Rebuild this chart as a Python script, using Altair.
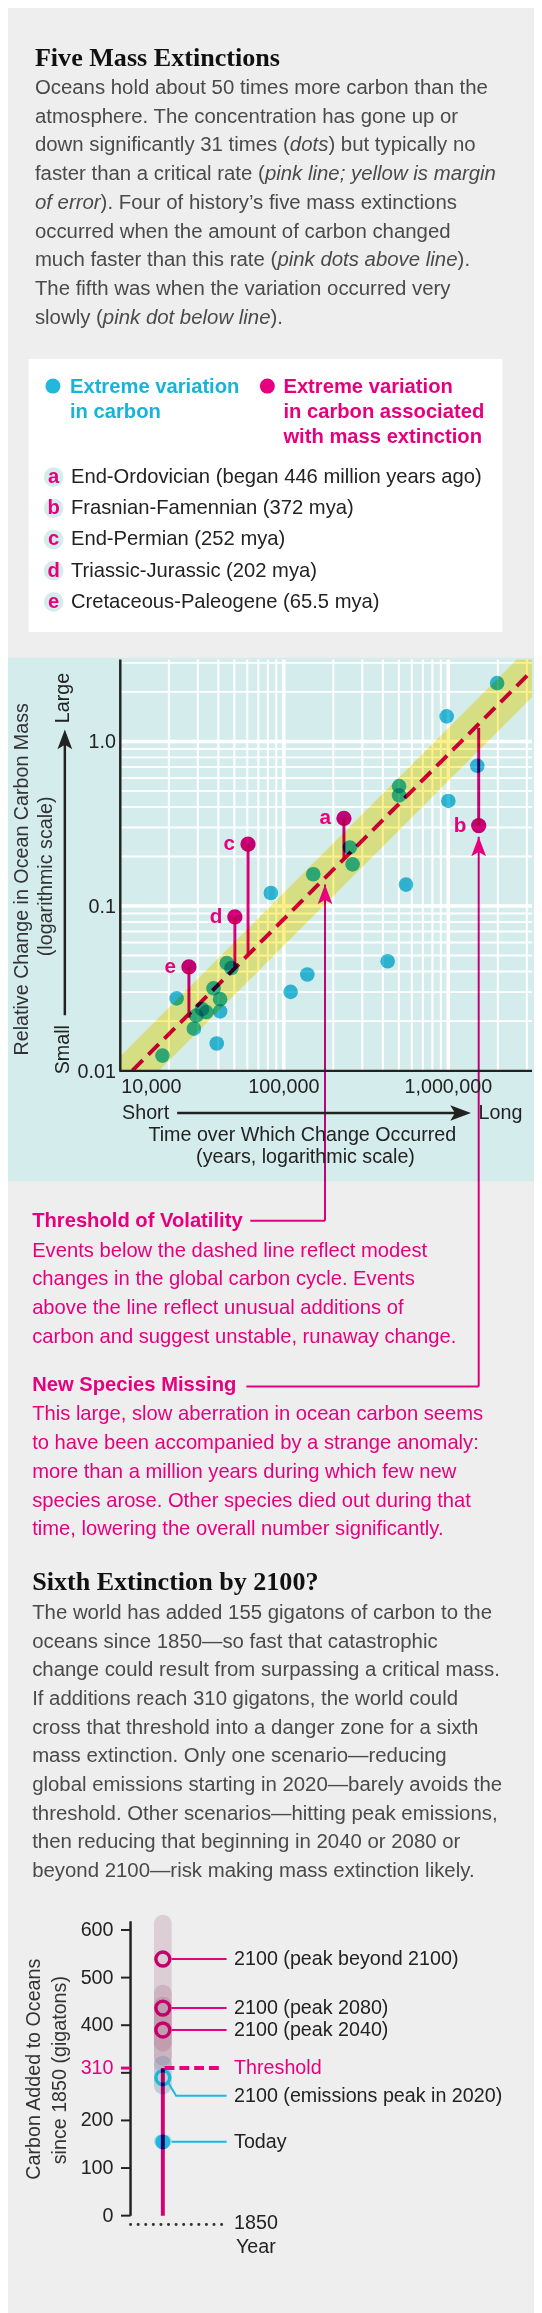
import altair as alt
import pandas as pd

# ---------------------------------------------------------------- data
# Scatter: extreme variations in ocean carbon (time in years, relative change)
cyan_time = [1.98e6, 9.77e5, 1.50e6, 5.02e5, 5.02e5, 1.0e6, 2.52e5, 2.62e5, 1.51e5,
             5.53e5, 8.34e4, 4.28e5, 1.39e5, 1.10e5, 2.23e4, 4.5e4, 4.8e4, 3.74e4,
             4.1e4, 4.1e4, 3.18e4, 3.38e4, 2.94e4, 2.84e4, 3.91e4, 1.83e4]
cyan_change = [2.26, 1.42, 0.711, 0.535, 0.470, 0.435, 0.227, 0.179, 0.156,
               0.135, 0.120, 0.0462, 0.0384, 0.0301, 0.0275, 0.045, 0.042, 0.0316,
               0.0272, 0.0229, 0.0237, 0.0227, 0.0216, 0.0180, 0.01463, 0.01235]

ext_letter = ["a", "b", "c", "d", "e"]
ext_name = ["End-Ordovician (began 446 million years ago)",
            "Frasnian-Famennian (372 mya)",
            "End-Permian (252 mya)",
            "Triassic-Jurassic (202 mya)",
            "Cretaceous-Paleogene (65.5 mya)"]
ext_time = [2.32e5, 1.53e6, 6.06e4, 5.04e4, 2.65e4]
ext_change = [0.341, 0.308, 0.238, 0.0859, 0.0427]
ext_on_line = [0.195, 1.21, 0.050, 0.042, 0.021]

threshold_time = [1.2e4, 3.228e6]
threshold_change = [0.01, 2.69]

band_time = [1.0e4, 1.74e4, 2.6e6, 3.228e6]
band_low = [0.01, 0.01, 1.494, 1.855]
band_high = [0.01208, 0.021, 3.14, 3.14]

callout_time = [1.78e5, 1.53e6]
callout_tip = [0.135, 0.264]

grid_time = [2e4, 3e4, 4e4, 5e4, 6e4, 7e4, 8e4, 9e4, 1e5, 2e5, 3e5, 4e5, 5e5,
             6e5, 7e5, 8e5, 9e5, 1e6, 2e6, 3e6]
grid_change = [0.02, 0.03, 0.04, 0.05, 0.06, 0.07, 0.08, 0.09, 0.1, 0.2, 0.3, 0.4,
               0.5, 0.6, 0.7, 0.8, 0.9, 1.0, 2.0, 3.0]
major_time = [1e5, 1e6]
major_change = [0.1, 1.0]
x_ticks = [1e4, 1e5, 1e6]
x_tick_labels = ["10,000", "100,000", "1,000,000"]
y_ticks = [0.01, 0.1, 1.0]
y_tick_labels = ["0.01", "0.1", "1.0"]
X_DOM = [1e4, 3.228e6]
Y_DOM = [0.01, 3.14]

# Sixth extinction scenarios (gigatons of carbon added since 1850)
scen_label = ["2100 (peak beyond 2100)", "2100 (peak 2080)", "2100 (peak 2040)",
              "2100 (emissions peak in 2020)", "Today"]
scen_value = [539, 436, 390, 290, 155]
scen_low = [300, 345, 315, 255, 143]
scen_high = [632, 485, 460, 336, 170]
scen_label_value = [539, 436, 390, 252, 155]
threshold_gt = 310
gt_ticks = [0, 100, 200, 300, 400, 500, 600]
gt_tick_labels = ["0", "100", "200", "", "400", "500", "600"]
GT_DOM = [0, 618.6]

# ---------------------------------------------------------------- texts
title1 = "Five Mass Extinctions"
intro_lines = [
    [("Oceans hold about 50 times more carbon than the", 0)],
    [("atmosphere. The concentration has gone up or", 0)],
    [("down significantly 31 times (", 0), ("dots", 1), (") but typically no", 0)],
    [("faster than a critical rate (", 0), ("pink line; yellow is margin", 1)],
    [("of error", 1), ("). Four of history\u2019s five mass extinctions", 0)],
    [("occurred when the amount of carbon changed", 0)],
    [("much faster than this rate (", 0), ("pink dots above line", 1), (").", 0)],
    [("The fifth was when the variation occurred very", 0)],
    [("slowly (", 0), ("pink dot below line", 1), (").", 0)],
]
legend_cyan = ["Extreme variation", "in carbon"]
legend_pink = ["Extreme variation", "in carbon associated", "with mass extinction"]

thr_title = "Threshold of Volatility"
thr_lines = ["Events below the dashed line reflect modest",
             "changes in the global carbon cycle. Events",
             "above the line reflect unusual additions of",
             "carbon and suggest unstable, runaway change."]
sp_title = "New Species Missing"
sp_lines = ["This large, slow aberration in ocean carbon seems",
            "to have been accompanied by a strange anomaly:",
            "more than a million years during which few new",
            "species arose. Other species died out during that",
            "time, lowering the overall number significantly."]
title2 = "Sixth Extinction by 2100?"
sixth_lines = ["The world has added 155 gigatons of carbon to the",
               "oceans since 1850\u2014so fast that catastrophic",
               "change could result from surpassing a critical mass.",
               "If additions reach 310 gigatons, the world could",
               "cross that threshold into a danger zone for a sixth",
               "mass extinction. Only one scenario\u2014reducing",
               "global emissions starting in 2020\u2014barely avoids the",
               "threshold. Other scenarios\u2014hitting peak emissions,",
               "then reducing that beginning in 2040 or 2080 or",
               "beyond 2100\u2014risk making mass extinction likely."]

# ---------------------------------------------------------------- style / layout
W_PAGE, H_PAGE = 534, 2305


def P(v):
    return v - 8  # reference pixel -> chart pixel (page margin)


SANS = "Liberation Sans"
SERIF = "Liberation Serif"
GRAY = "#4a4a4a"
INK = "#222222"
PINK = "#e6007e"
CYAN = "#22b8dc"
CYAN_TXT = "#16b4d8"
TEAL = "#d5ecec"
YELLOW = "#fff08c"
DASH = "#e8005c"
FS = 20.5
FS_BODY = 20.7

_W = {' ': 278, '!': 278, '(': 333, ')': 333, ',': 278, '-': 333, '.': 278, ':': 278,
      ';': 278, '?': 556, '\u2019': 222, '\u2014': 1000}
for ch in "0123456789":
    _W[ch] = 556
_W.update(dict(A=667, B=667, C=722, D=722, E=667, F=611, G=778, H=722, I=278, J=500,
               K=667, L=556, M=833, N=722, O=778, P=667, Q=778, R=722, S=667, T=611,
               U=722, V=667, W=944, X=667, Y=667, Z=611))
_W.update(dict(a=556, b=556, c=500, d=556, e=556, f=278, g=556, h=556, i=222, j=222,
               k=500, l=222, m=833, n=556, o=556, p=556, q=556, r=333, s=500, t=278,
               u=556, v=500, w=722, x=500, y=500, z=500))


def tw(s, size):
    return sum(_W.get(ch, 556) for ch in s) * size / 1000.0


reg, ital, bold, boldc, regc, rot, serif = ([] for _ in range(7))


def add(lst, t, x, y, c, s):
    lst.append(dict(t=t, x=P(x), y=P(y), c=c, s=s))


add(serif, title1, 35.3, 41.7, "#111111", 26.5)
add(serif, title2, 32.5, 1589, "#111111", 26.5)

for i, segs in enumerate(intro_lines):
    cx = 35.3
    y = 71.7 + i * 29.16
    for txt, it in segs:
        add(ital if it else reg, txt, cx, y, GRAY, FS_BODY)
        cx += tw(txt, FS_BODY)

for i, t in enumerate(legend_cyan):
    add(bold, t, 70.9, 375 + i * 25.5, CYAN_TXT, FS)
for i, t in enumerate(legend_pink):
    add(bold, t, 287.6, 375 + i * 25.5, PINK, FS)
for i, (l, n) in enumerate(zip(ext_letter, ext_name)):
    y = 466.7 + i * 31.67
    add(boldc, l, 54.3, y, PINK, FS)
    add(reg, n, 71.9, y, INK, FS)

add(bold, thr_title, 32.5, 1221.7, PINK, FS)
for i, t in enumerate(thr_lines):
    add(reg, t, 32.5, 1252.3 + i * 29.0, PINK, FS)
add(bold, sp_title, 32.5, 1389, PINK, FS)
for i, t in enumerate(sp_lines):
    add(reg, t, 32.5, 1418.3 + i * 29.2, PINK, FS)
for i, t in enumerate(sixth_lines):
    add(reg, t, 32.5, 1620 + i * 29.1, GRAY, FS_BODY)

# scatter axis annotations
add(rot, "Relative Change in Ocean Carbon Mass", 22.5, 875, "#333333", 20)
add(rot, "(logarithmic scale)", 46.7, 872, "#333333", 20)
add(rot, "Large", 64, 691, INK, 20)
add(rot, "Small", 64, 1048, INK, 20)
add(reg, "Short", 123.8, 1112.3, INK, 20)
add(reg, "Long", 485.7, 1112.3, INK, 20)
add(regc, "Time over Which Change Occurred", 306.8, 1134.3, INK, 20)
add(regc, "(years, logarithmic scale)", 310, 1157.3, INK, 20)
# bottom chart annotations
add(rot, "Carbon Added to Oceans", 34.6, 2083, "#333333", 20)
add(rot, "since 1850 (gigatons)", 60.5, 2084, "#333333", 20)
add(reg, "1850", 237.5, 2239.3, INK, 20)
add(reg, "Year", 239.5, 2264, INK, 20)


def text_layer(rows, **kw):
    base = dict(baseline="middle", font=SANS, align="left")
    base.update(kw)
    return alt.Chart(pd.DataFrame(rows)).mark_text(**base).encode(
        x=alt.X("x:Q", scale=None, axis=None),
        y=alt.Y("y:Q", scale=None, axis=None),
        text=alt.Text("t:N"),
        color=alt.Color("c:N", scale=None),
        size=alt.Size("s:Q", scale=None),
    )


t_serif = text_layer(serif, font=SERIF, fontWeight="bold")
t_reg = text_layer(reg)
t_ital = text_layer(ital, fontStyle="italic")
t_bold = text_layer(bold, fontWeight="bold")
t_boldc = text_layer(boldc, fontWeight="bold", align="center")
t_regc = text_layer(regc, align="center")
t_rot = text_layer(rot, align="center", angle=270)

# ---------------------------------------------------------------- backgrounds
bg_df = pd.DataFrame([
    dict(x=P(0), x2=P(542), y=P(650), y2=P(1181.7), c=TEAL),
    dict(x=P(29), x2=P(510), y=P(346.7), y2=P(624), c="#ffffff"),
])
bg = alt.Chart(bg_df).mark_rect().encode(
    x=alt.X("x:Q", scale=None, axis=None), x2="x2:Q",
    y=alt.Y("y:Q", scale=None, axis=None), y2="y2:Q",
    color=alt.Color("c:N", scale=None))

leg_df = pd.DataFrame(
    [dict(x=P(53.6), y=P(374.3), c=CYAN, s=232), dict(x=P(271.3), y=P(374.3), c=PINK, s=232)]
    + [dict(x=P(54.3), y=P(466.7 + i * 31.67), c=TEAL, s=400) for i in range(len(ext_letter))])
legend_marks = alt.Chart(leg_df).mark_circle(opacity=1).encode(
    x=alt.X("x:Q", scale=None, axis=None), y=alt.Y("y:Q", scale=None, axis=None),
    color=alt.Color("c:N", scale=None), size=alt.Size("s:Q", scale=None))

ann_df = pd.DataFrame([
    dict(x=P(65.7), x2=P(65.7), y=P(1013), y2=P(736)),
    dict(x=P(179.7), x2=P(465), y=P(1112.3), y2=P(1112.3)),
])
ann_rules = alt.Chart(ann_df).mark_rule(color=INK, strokeWidth=2.5).encode(
    x=alt.X("x:Q", scale=None, axis=None), x2="x2:Q",
    y=alt.Y("y:Q", scale=None, axis=None), y2="y2:Q")

ARROW = "M0,-1L0.75,1L0,0.55L-0.75,1Z"
head_df = pd.DataFrame([dict(x=P(65.7), y=P(733), a=0, s=400),
                        dict(x=P(467.5), y=P(1112.3), a=90, s=441)])
heads = alt.Chart(head_df).mark_point(shape=ARROW, filled=True, color=INK, opacity=1).encode(
    x=alt.X("x:Q", scale=None, axis=None), y=alt.Y("y:Q", scale=None, axis=None),
    angle=alt.Angle("a:Q", scale=None), size=alt.Size("s:Q", scale=None))

dot_df = pd.DataFrame([dict(x=P(132.4), x2=P(231.6), y=P(2240.7), y2=P(2240.7))])
dotted = alt.Chart(dot_df).mark_rule(color="#333333", strokeWidth=3, strokeDash=[0.1, 7.6],
                                     strokeCap="round").encode(
    x=alt.X("x:Q", scale=None, axis=None), x2="x2:Q",
    y=alt.Y("y:Q", scale=None, axis=None), y2="y2:Q")

# ---------------------------------------------------------------- scatter
xs = alt.Scale(type="log", domain=X_DOM, range=[P(121), P(540)], nice=False)
ys = alt.Scale(type="log", domain=Y_DOM, range=[P(1069.3), P(652)], nice=False)
AX_X = P(122)      # vertical axis line position
AX_Y = P(1069.5)   # horizontal axis line position

gv = pd.DataFrame({"v": grid_time, "w": [3.5 if v in major_time else 2 for v in grid_time]})
grid_v = alt.Chart(gv).mark_rule(color="white").encode(
    x=alt.X("v:Q", scale=xs, axis=None), y=alt.value(P(652)), y2=alt.value(AX_Y),
    strokeWidth=alt.StrokeWidth("w:Q", scale=None))
gh = pd.DataFrame({"v": grid_change, "w": [3.5 if v in major_change else 2 for v in grid_change]})
grid_h = alt.Chart(gh).mark_rule(color="white").encode(
    y=alt.Y("v:Q", scale=ys, axis=None), x=alt.value(AX_X), x2=alt.value(P(540)),
    strokeWidth=alt.StrokeWidth("w:Q", scale=None))

band = alt.Chart(pd.DataFrame({"t": band_time, "lo": band_low, "hi": band_high})).mark_area(
    color=YELLOW, blend="multiply", opacity=1).encode(
    x=alt.X("t:Q", scale=xs, axis=None), y=alt.Y("lo:Q", scale=ys, axis=None), y2="hi:Q")

thr_line = alt.Chart(pd.DataFrame({"t": threshold_time, "c": threshold_change})).mark_line(
    color=DASH, strokeWidth=4, strokeDash=[15, 8], blend="multiply").encode(
    x=alt.X("t:Q", scale=xs, axis=None), y=alt.Y("c:Q", scale=ys, axis=None))

cyan_dots = alt.Chart(pd.DataFrame({"t": cyan_time, "c": cyan_change})).mark_circle(
    size=220, color=CYAN, opacity=0.9, blend="multiply").encode(
    x=alt.X("t:Q", scale=xs, axis=None), y=alt.Y("c:Q", scale=ys, axis=None))

# axis lines and tick labels, placed through the scales
dom_df = pd.DataFrame({"x0": [X_DOM[0]], "x1": [X_DOM[1]], "y0": [Y_DOM[0]], "y1": [Y_DOM[1]]})
x_dom = alt.Chart(dom_df).mark_rule(color=INK, strokeWidth=2.5).encode(
    x=alt.X("x0:Q", scale=xs, axis=None), x2="x1:Q", y=alt.value(AX_Y))
y_dom = alt.Chart(dom_df).mark_rule(color=INK, strokeWidth=2.5).encode(
    y=alt.Y("y0:Q", scale=ys, axis=None), y2="y1:Q", x=alt.value(AX_X))
xt_df = pd.DataFrame({"v": x_ticks, "t": x_tick_labels})
x_lab_first = alt.Chart(xt_df.iloc[[0]]).mark_text(
    align="left", baseline="middle", font=SANS, fontSize=20, color=INK, dx=2).encode(
    x=alt.X("v:Q", scale=xs, axis=None), y=alt.value(P(1086)), text="t:N")
x_lab_rest = alt.Chart(xt_df.iloc[1:]).mark_text(
    align="center", baseline="middle", font=SANS, fontSize=20, color=INK).encode(
    x=alt.X("v:Q", scale=xs, axis=None), y=alt.value(P(1086)), text="t:N")
yt_df = pd.DataFrame({"v": y_ticks, "t": y_tick_labels})
y_lab = alt.Chart(yt_df).mark_text(
    align="right", baseline="middle", font=SANS, fontSize=20, color=INK, dy=1).encode(
    y=alt.Y("v:Q", scale=ys, axis=None), x=alt.value(P(117.5)), text="t:N")

ext_df = pd.DataFrame({"l": ext_letter, "t": ext_time, "c": ext_change, "e": ext_on_line})
stems = alt.Chart(ext_df).mark_rule(color=PINK, strokeWidth=3, blend="multiply").encode(
    x=alt.X("t:Q", scale=xs, axis=None), y=alt.Y("c:Q", scale=ys, axis=None), y2="e:Q")
ext_dots = alt.Chart(ext_df).mark_circle(size=240, color=PINK, opacity=1, blend="multiply").encode(
    x=alt.X("t:Q", scale=xs, axis=None), y=alt.Y("c:Q", scale=ys, axis=None))
ext_text = alt.Chart(ext_df).mark_text(
    dx=-19, align="center", baseline="middle", fontWeight="bold", fontSize=21,
    color=PINK, font=SANS).encode(
    x=alt.X("t:Q", scale=xs, axis=None), y=alt.Y("c:Q", scale=ys, axis=None), text="l:N")

cdf = pd.DataFrame({"t": callout_time, "tip": callout_tip})
lead_y = [1221.7, 1390]
lead_x = [254, 250]
leaders = []
for i in range(2):
    one = cdf.iloc[[i]]
    leaders.append(alt.Chart(one).mark_rule(color=PINK, strokeWidth=2, blend="multiply").encode(
        x=alt.X("t:Q", scale=xs, axis=None), y=alt.Y("tip:Q", scale=ys, axis=None),
        y2=alt.value(P(lead_y[i]))))
    leaders.append(alt.Chart(one).mark_rule(color=PINK, strokeWidth=2).encode(
        x=alt.X("t:Q", scale=xs, axis=None), x2=alt.value(P(lead_x[i])),
        y=alt.value(P(lead_y[i]))))
pink_heads = alt.Chart(cdf).mark_point(shape=ARROW, filled=True, size=400, color=PINK,
                                       opacity=1, yOffset=10).encode(
    x=alt.X("t:Q", scale=xs, axis=None), y=alt.Y("tip:Q", scale=ys, axis=None))

scatter = alt.layer(grid_v, grid_h, band, thr_line, cyan_dots, *leaders, stems, ext_dots,
                    pink_heads, ext_text, x_dom, y_dom, x_lab_first, x_lab_rest, y_lab)

# ---------------------------------------------------------------- bottom chart
gs = alt.Scale(domain=GT_DOM, range=[P(2231.7), P(1932.7)], nice=False, zero=False)
BX = P(165.2)
AXB = P(132.4)
sdf = pd.DataFrame({
    "label": scen_label, "v": scen_value, "lo": scen_low, "hi": scen_high,
    "lv": scen_label_value,
    "fill": ["#a0607f", "#a0607f", "#a0607f", "#6a90ad", CYAN],
    "op": [0.22, 0.25, 0.25, 0.35, 0.35],
    "ring": ["#c4006c", "#c4006c", "#c4006c", "#1ab8d4", CYAN],
    "lc": [PINK, PINK, PINK, "#1ab8e0", "#1ab8e0"],
})
ranges = alt.Chart(sdf).mark_rect(cornerRadius=9).encode(
    x=alt.value(BX - 9), x2=alt.value(BX + 9),
    y=alt.Y("lo:Q", scale=gs, axis=None), y2="hi:Q",
    color=alt.Color("fill:N", scale=None), opacity=alt.Opacity("op:Q", scale=None))

gdom_df = pd.DataFrame({"y0": [GT_DOM[0]], "y1": [GT_DOM[1]]})
g_dom = alt.Chart(gdom_df).mark_rule(color=INK, strokeWidth=2.5).encode(
    y=alt.Y("y0:Q", scale=gs, axis=None), y2="y1:Q", x=alt.value(AXB))
gt_df = pd.DataFrame({"v": gt_ticks, "t": gt_tick_labels})
g_ticks = alt.Chart(gt_df).mark_rule(color=INK, strokeWidth=2).encode(
    y=alt.Y("v:Q", scale=gs, axis=None), x=alt.value(AXB - 9.7), x2=alt.value(AXB))
g_labs = alt.Chart(gt_df).mark_text(align="right", baseline="middle", font=SANS, fontSize=20,
                                    color=INK).encode(
    y=alt.Y("v:Q", scale=gs, axis=None), x=alt.value(P(115.1)), text="t:N")

thr_df = pd.DataFrame({"lo": [0], "hi": [threshold_gt], "t": [str(threshold_gt)]})
rings = alt.Chart(sdf.iloc[:4]).mark_point(filled=False, strokeWidth=3.5, size=200,
                                           opacity=1).encode(
    x=alt.value(BX), y=alt.Y("v:Q", scale=gs, axis=None), color=alt.Color("ring:N", scale=None))
today = alt.Chart(sdf.iloc[[4]]).mark_circle(size=230, opacity=1).encode(
    x=alt.value(BX), y=alt.Y("v:Q", scale=gs, axis=None), color=alt.Color("ring:N", scale=None))
stem_b = alt.Chart(thr_df).mark_rule(color=PINK, strokeWidth=4, blend="multiply").encode(
    x=alt.value(BX), y=alt.Y("lo:Q", scale=gs, axis=None), y2="hi:Q")
lead_b = alt.Chart(sdf.iloc[[0, 1, 2, 4]]).mark_rule(strokeWidth=2).encode(
    x=alt.value(P(174)), x2=alt.value(P(229.9)), y=alt.Y("v:Q", scale=gs, axis=None),
    color=alt.Color("lc:N", scale=None))
bent_df = pd.DataFrame({"px": [P(171), P(178.7), P(229.9)],
                        "v": [scen_value[3] - 12, scen_label_value[3], scen_label_value[3]]})
bent = alt.Chart(bent_df).mark_line(strokeWidth=2, color="#1ab8e0").encode(
    x=alt.X("px:Q", scale=None, axis=None), y=alt.Y("v:Q", scale=gs, axis=None))
thr_dash = alt.Chart(thr_df).mark_rule(color=PINK, strokeWidth=4, strokeDash=[10, 5]).encode(
    x=alt.value(P(167)), x2=alt.value(P(224.7)), y=alt.Y("hi:Q", scale=gs, axis=None))
thr_tick = alt.Chart(thr_df).mark_rule(color=PINK, strokeWidth=3).encode(
    x=alt.value(AXB - 9.7), x2=alt.value(AXB), y=alt.Y("hi:Q", scale=gs, axis=None))
thr_lab = alt.Chart(thr_df).mark_text(align="right", baseline="middle", font=SANS,
                                      fontSize=20, color=PINK).encode(
    x=alt.value(P(115.1)), y=alt.Y("hi:Q", scale=gs, axis=None), text="t:N")
thr_word = alt.Chart(thr_df).mark_text(align="left", baseline="middle", font=SANS,
                                       fontSize=20, color=PINK).encode(
    x=alt.value(P(237.5)), y=alt.Y("hi:Q", scale=gs, axis=None), text=alt.value("Threshold"))
scen_text = alt.Chart(sdf).mark_text(align="left", baseline="middle", font=SANS,
                                     fontSize=20, color=INK).encode(
    x=alt.value(P(237.5)), y=alt.Y("lv:Q", scale=gs, axis=None), text="label:N")

bottom = alt.layer(ranges, g_dom, g_ticks, g_labs, rings, today, stem_b, lead_b, bent,
                   thr_dash, thr_tick, thr_lab, thr_word, scen_text)

# ---------------------------------------------------------------- assemble
chart = alt.layer(
    bg, legend_marks, scatter, ann_rules, heads, dotted, bottom,
    t_serif, t_reg, t_ital, t_bold, t_boldc, t_regc, t_rot,
).resolve_scale(
    x="independent", y="independent"
).properties(
    width=W_PAGE, height=H_PAGE, autosize=alt.AutoSizeParams(type="none"), padding=0,
    background="#eeeeee",
).configure_view(stroke=None)

chart.save("out.html", embed_options={"renderer": "svg", "actions": False})
